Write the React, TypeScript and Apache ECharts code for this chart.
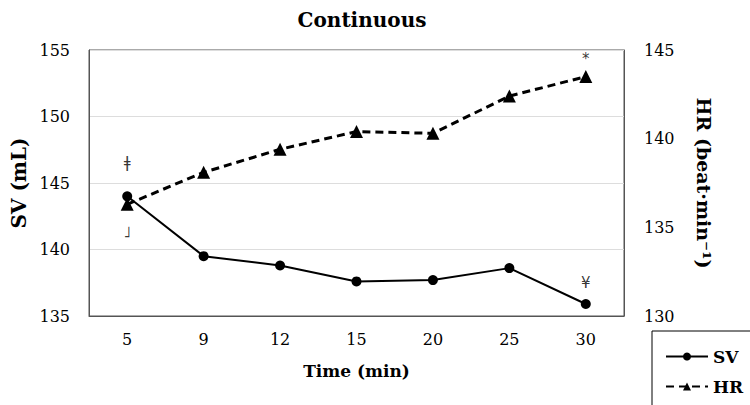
import React, { useEffect, useRef } from "react";
import * as echarts from "echarts";

const categories = ["5", "9", "12", "15", "20", "25", "30"];
const svValues = [144.0, 139.5, 138.8, 137.6, 137.7, 138.6, 135.9];
const hrValues = [136.3, 138.1, 139.4, 140.4, 140.3, 142.4, 143.5];
const svTicks = { min: 135, max: 155, interval: 5 };
const hrTicks = { min: 130, max: 145, interval: 5 };
const annotations = [
  { cat: "5", sv: 145.9, text: "ǂ" },
  { cat: "5", sv: 140.7, text: "˩" },
  { cat: "30", sv: 153.7, text: "*" },
  { cat: "30", sv: 136.9, text: "¥" },
];

const FONT = "DejaVu Serif";

export default function App() {
  const ref = useRef<HTMLDivElement>(null);
  useEffect(() => {
    const chart = echarts.init(ref.current!, null, { renderer: "svg" });
    chart.setOption({
      animation: false,
      backgroundColor: "#fff",
      textStyle: { fontFamily: FONT },
      title: {
        text: "Continuous",
        left: 357,
        textAlign: "center",
        top: 5,
        textStyle: { fontFamily: FONT, fontWeight: "bold", fontSize: 20, color: "#000" },
      },
      grid: {
        left: 89,
        right: 126,
        top: 50,
        bottom: 89,
        show: true,
        borderColor: "#555",
        borderWidth: 1,
      },
      legend: {
        left: 660,
        top: 343,
        orient: "vertical",
        itemWidth: 42,
        itemHeight: 10,
        itemGap: 13,
        textStyle: { fontFamily: FONT, fontWeight: "bold", fontSize: 17, color: "#000" },
        data: ["SV", "HR"],
      },
      graphic: [
        {
          type: "rect",
          shape: { x: 652, y: 331, width: 110, height: 90 },
          style: { fill: "none", stroke: "#000", lineWidth: 1 },
        },
      ],
      xAxis: {
        type: "category",
        data: categories,
        boundaryGap: true,
        name: "Time (min)",
        nameLocation: "middle",
        nameGap: 46,
        nameTextStyle: { fontFamily: FONT, fontWeight: "bold", fontSize: 17, color: "#000" },
        axisLine: { lineStyle: { color: "#555" } },
        axisTick: { alignWithLabel: true, length: 6, lineStyle: { color: "#555" } },
        axisLabel: { fontFamily: FONT, fontSize: 16, color: "#000", margin: 15 },
      },
      yAxis: [
        {
          type: "value",
          min: svTicks.min,
          max: svTicks.max,
          interval: svTicks.interval,
          name: "SV (mL)",
          nameLocation: "middle",
          nameGap: 58,
          nameTextStyle: { fontFamily: FONT, fontWeight: "bold", fontSize: 20, color: "#000" },
          axisLine: { show: true, lineStyle: { color: "#555" } },
          axisTick: { show: false },
          axisLabel: { fontFamily: FONT, fontSize: 16, color: "#000", margin: 19 },
          splitLine: { show: true, lineStyle: { color: "#ddd" } },
        },
        {
          type: "value",
          min: hrTicks.min,
          max: hrTicks.max,
          interval: hrTicks.interval,
          name: "HR (beat·min⁻¹)",
          nameLocation: "middle",
          nameGap: 70,
          nameRotate: -90,
          nameTextStyle: { fontFamily: FONT, fontWeight: "bold", fontSize: 19, color: "#000" },
          axisLine: { show: true, lineStyle: { color: "#555" } },
          axisTick: { show: false },
          axisLabel: { fontFamily: FONT, fontSize: 16, color: "#000", margin: 20 },
          splitLine: { show: false },
        },
      ],
      series: [
        {
          name: "SV",
          type: "line",
          yAxisIndex: 0,
          data: svValues,
          symbol: "circle",
          symbolSize: 10,
          itemStyle: { color: "#000" },
          lineStyle: { color: "#000", width: 2, type: "solid" },
          z: 3,
        },
        {
          name: "HR",
          type: "line",
          yAxisIndex: 1,
          data: hrValues,
          symbol: "triangle",
          symbolSize: 13,
          itemStyle: { color: "#000" },
          lineStyle: { color: "#000", width: 3, type: [8, 5] },
          z: 4,
        },
        {
          name: "annotations",
          type: "scatter",
          yAxisIndex: 0,
          symbol: "circle",
          symbolSize: 1,
          silent: true,
          itemStyle: { color: "rgba(0,0,0,0)" },
          label: {
            show: true,
            position: "top",
            distance: 0,
            fontFamily: "DejaVu Sans",
            fontSize: 15,
            color: "#000",
            textBorderWidth: 0,
            formatter: (p: any) => annotations[p.dataIndex].text,
          },
          data: annotations.map((a) => [a.cat, a.sv]),
        },
      ],
    });
    return () => chart.dispose();
  }, []);
  return <div ref={ref} style={{ width: 750, height: 405, position: "absolute", left: 0, top: 0 }} />;
}
